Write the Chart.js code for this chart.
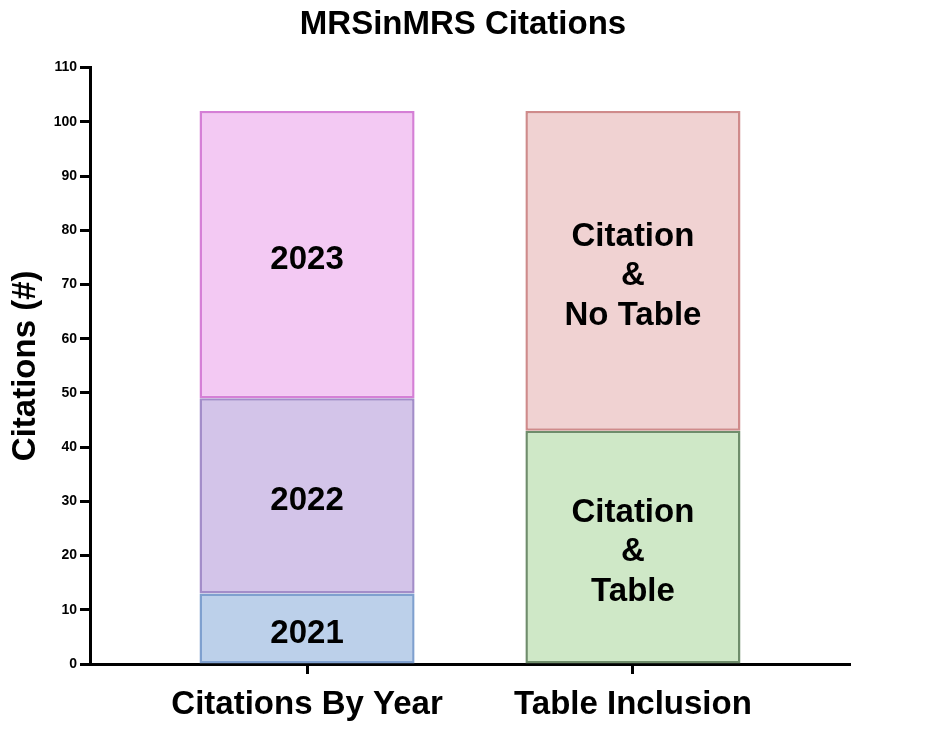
<!DOCTYPE html>
<html>
<head>
<meta charset="utf-8">
<script src="https://cdn.jsdelivr.net/npm/chart.js@4.4.1/dist/chart.umd.min.js"></script>
<style>
  html, body { margin: 0; padding: 0; background: #fff; }
  #wrap { width: 936px; height: 730px; position: relative; }
</style>
</head>
<body>
<div id="wrap"><canvas id="c" width="936" height="730"></canvas></div>
<script>
// ---- data ----
const chartTitle = 'MRSinMRS Citations';
const yAxisTitle = 'Citations (#)';
const categories = ['Citations By Year', 'Table Inclusion'];
const yearLabels = [['2021'], ['2022'], ['2023']];
const yearValues = [13, 36, 53];
const yearFills = ['#BCD0EA', '#D3C4E9', '#F3C9F3'];
const yearBorders = ['#7FA0CF', '#A38DC9', '#D57FD6'];
const tableLabels = [['Citation', '&', 'Table'], ['Citation', '&', 'No Table']];
const tableValues = [43, 59];
const tableFills = ['#CFE8C7', '#F0D2D2'];
const tableBorders = ['#6F8D6B', '#CF8B8B'];
const yMin = 0, yMax = 110, yStep = 10;

const FONT = 'Liberation Sans, Arial, Helvetica, sans-serif';

const datasets = [];
yearValues.forEach((v, i) => datasets.push({
  label: yearLabels[i].join(' '), lines: yearLabels[i],
  data: [{ x: 0, y: v }],
  backgroundColor: yearFills[i], borderColor: yearBorders[i]
}));
tableValues.forEach((v, i) => datasets.push({
  label: tableLabels[i].join(' '), lines: tableLabels[i],
  data: [{ x: 1, y: v }],
  backgroundColor: tableFills[i], borderColor: tableBorders[i]
}));
datasets.forEach(d => { d.borderWidth = 2.5; d.borderSkipped = false; });

const barLabelPlugin = {
  id: 'barLabels',
  afterDatasetsDraw(chart) {
    const ctx = chart.ctx;
    ctx.save();
    ctx.font = 'bold 33px ' + FONT;
    ctx.fillStyle = '#000';
    ctx.textAlign = 'center';
    ctx.textBaseline = 'middle';
    const lh = 39.5;
    chart.data.datasets.forEach((ds, di) => {
      const meta = chart.getDatasetMeta(di);
      meta.data.forEach(el => {
        const p = el.getProps(['x', 'y', 'base'], true);
        const cy = (p.y + p.base) / 2 + 5;
        const n = ds.lines.length;
        ds.lines.forEach((t, k) => {
          ctx.fillText(t, p.x, cy + (k - (n - 1) / 2) * lh);
        });
      });
    });
    ctx.restore();
  }
};

new Chart(document.getElementById('c'), {
  type: 'bar',
  data: { datasets },
  plugins: [barLabelPlugin],
  options: {
    responsive: false,
    animation: false,
    devicePixelRatio: 1,
    layout: { padding: { left: 0, right: 10, top: 0, bottom: 0 } },
    datasets: { bar: { categoryPercentage: 1, barPercentage: 0.66 } },
    plugins: {
      legend: { display: false },
      tooltip: { enabled: false },
      title: {
        display: true, text: chartTitle, color: '#000',
        font: { family: FONT, size: 33, weight: 'bold' },
        padding: { top: 5, bottom: 23 }
      }
    },
    scales: {
      x: {
        type: 'linear', stacked: true, offset: false,
        min: -0.666, max: 1.666,
        afterBuildTicks: s => { s.ticks = categories.map((c, i) => ({ value: i })); },
        afterFit: s => { s.height = 66; },
        ticks: {
          color: '#000', padding: 11, autoSkip: false, maxRotation: 0,
          font: { family: FONT, size: 33, weight: 'bold' },
          callback: v => categories[v]
        },
        grid: { offset: false, drawOnChartArea: false, drawTicks: true, tickLength: 10, tickWidth: 3, tickColor: '#000' },
        border: { display: true, color: '#000', width: 3 }
      },
      y: {
        stacked: true, min: yMin, max: yMax,
        afterFit: s => { s.width = 90; },
        ticks: {
          stepSize: yStep, color: '#000', padding: 3,
          font: { family: FONT, size: 14, weight: 'bold' }
        },
        grid: { drawOnChartArea: false, drawTicks: true, tickLength: 10, tickWidth: 3, tickColor: '#000' },
        border: { display: true, color: '#000', width: 3 },
        title: {
          display: true, text: yAxisTitle, color: '#000',
          font: { family: FONT, size: 33, weight: 'bold' },
          padding: { top: 6 }
        }
      },
      rightSpace: {
        type: 'linear', position: 'right', display: true,
        afterFit: s => { s.width = 76; },
        ticks: { display: false },
        grid: { display: false, drawTicks: false },
        border: { display: false },
        title: { display: false }
      }
    }
  }
});
</script>
</body>
</html>
